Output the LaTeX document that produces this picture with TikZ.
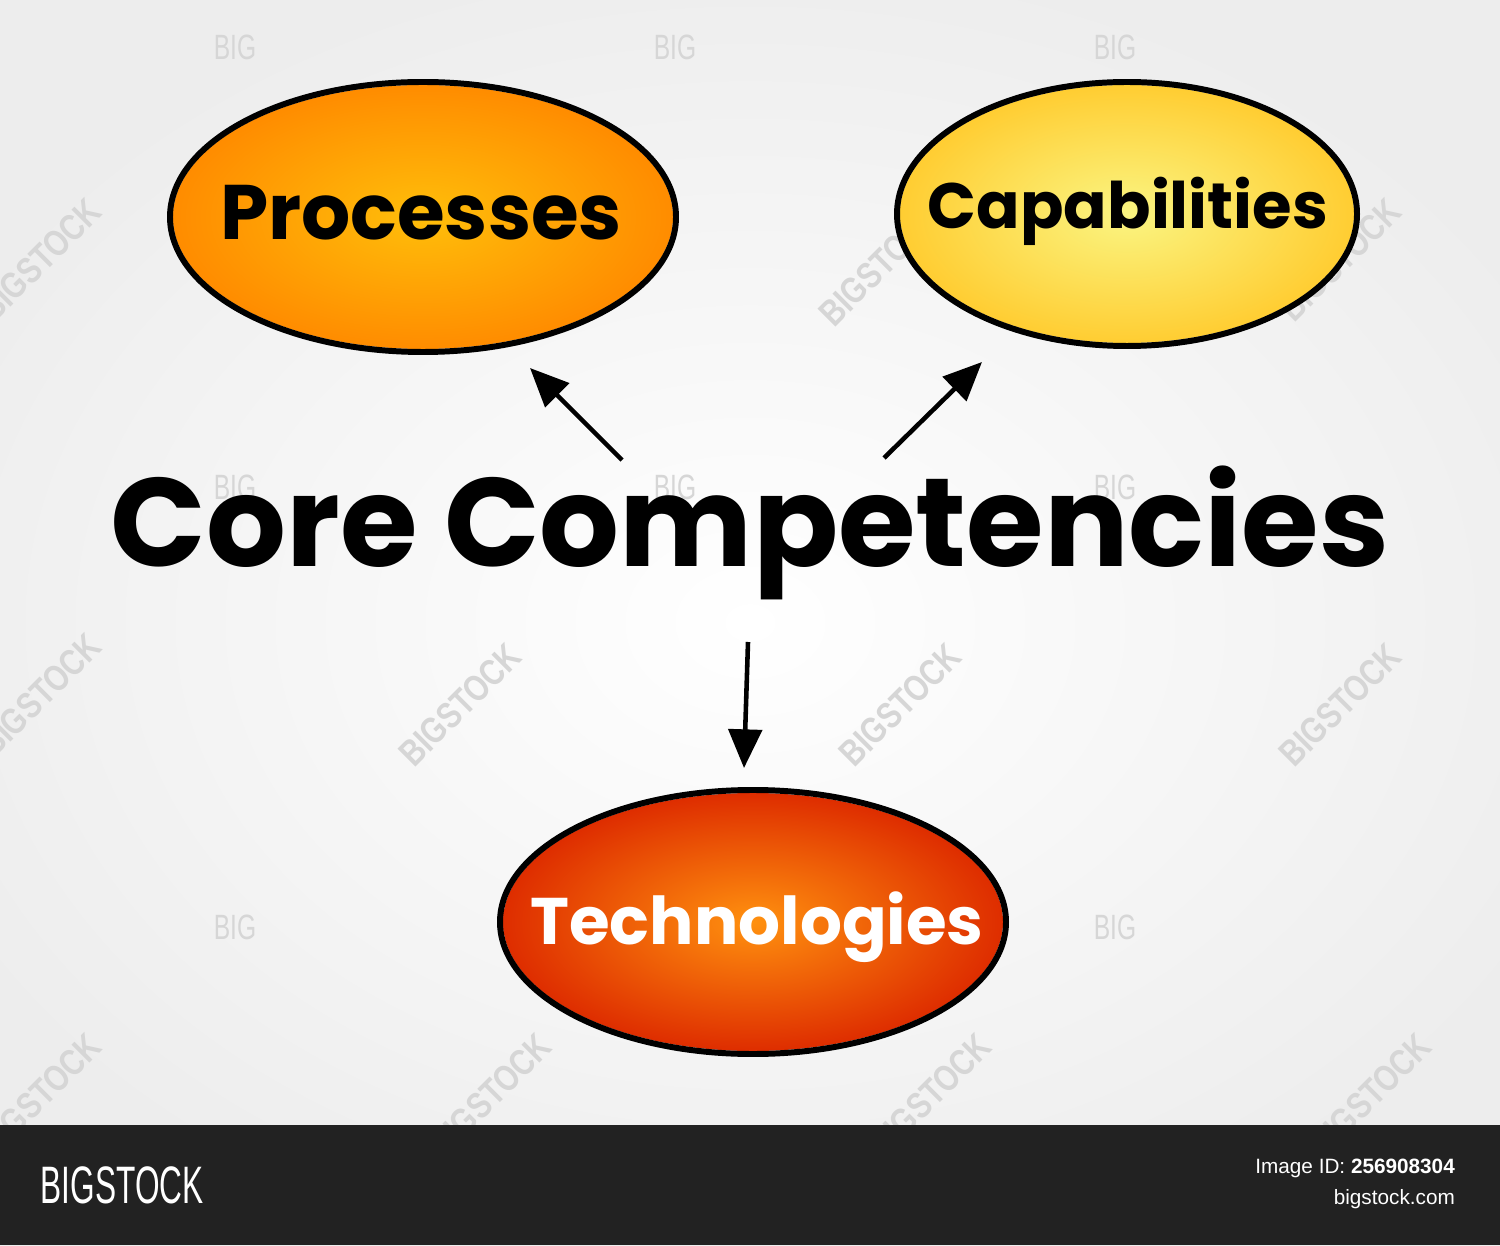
\documentclass[tikz,border=0pt]{standalone}
\usepackage{fontspec}
\setmainfont{Poppins}
\newfontfamily\lib{Liberation Sans}
\usetikzlibrary{arrows.meta,shapes.geometric}
\definecolor{bgc}{HTML}{EDEDED}
\definecolor{barc}{HTML}{222222}
\definecolor{wm}{HTML}{D6D6D6}
\tikzset{
  bubble/.style={ellipse, draw=none, inner sep=0pt},
  bubtext/.style={font=\fontsize{44}{50}\selectfont\bfseries},
  outline/.style={line width=3.4pt},
  arr/.style={line width=2.6pt, -{Triangle[length=22pt,width=19pt]}},
  wmbig/.style={text=wm, font=\lib\fontsize{20}{22}\selectfont, xscale=0.7},
  wmstock/.style={text=wm, font=\lib\bfseries\fontsize{21}{23}\selectfont, rotate=45, xscale=0.8},
}
\begin{document}
\begin{tikzpicture}[x=0.02cm,y=0.02cm]
\useasboundingbox (0,0) rectangle (1500,1245);
% background
\shade[inner color=white, outer color=bgc] (-150,-50) rectangle (1650,1295);
% watermarks
\foreach \x/\y in {235/1198,675/1198,1115/1198,235/758,675/758,1115/758,235/318,675/318,1115/318}
  \node[wmbig] (wb\x\y) at (\x,\y) {BIG};
\foreach \x/\y in {40/985,460/980,880/980,1340/985,40/550,460/540,900/540,1340/540,40/150,490/150,930/150,1370/150}
  \node[wmstock] (ws\x\y) at (\x,\y) {BIGSTOCK};
% bubbles
\shade[inner color={rgb,255:red,255;green,190;blue,10}, outer color={rgb,255:red,255;green,140;blue,0}] (423,1028) ellipse (250 and 132);
\draw[outline] (423,1028) ellipse (253 and 135);
\node[bubble, minimum width=10.12cm, minimum height=5.4cm] (proc) at (423,1028) {};
\node[bubtext] (proct) at (421,1032) {Processes};

\shade[inner color={rgb,255:red,250;green,245;blue,130}, outer color={rgb,255:red,255;green,205;blue,50}] (1127,1031) ellipse (227 and 129);
\draw[outline] (1127,1031) ellipse (230 and 132);
\node[bubble, minimum width=9.2cm, minimum height=5.28cm] (cap) at (1127,1031) {};
\node[bubtext, font=\fontsize{36.5}{42}\selectfont\bfseries] (capt) at (1128,1034) {Capabilities};

\shade[inner color={rgb,255:red,255;green,145;blue,15}, outer color={rgb,255:red,222;green,45;blue,0}] (753,323) ellipse (250 and 129);
\draw[outline] (753,323) ellipse (253 and 132);
\node[bubble, minimum width=10.12cm, minimum height=5.28cm] (tech) at (753,323) {};
\node[bubtext, text=white, font=\fontsize{37.5}{42}\selectfont\bfseries] (techt) at (757,318) {Technologies};

% central text
\node[font=\fontsize{71.5}{82}\selectfont\bfseries] (core) at (750,712) {Core Competencies};

% arrows
\coordinate (a1s) at (622,785);
\coordinate (a1e) at (530,877);
\coordinate (a2s) at (884,787);
\coordinate (a2e) at (982,883);
\coordinate (a3s) at (748,603);
\coordinate (a3e) at (744,477);
\draw[arr] (a1s) -- (a1e);
\draw[arr] (a2s) -- (a2e);
\draw[arr] (a3s) -- (a3e);

% bottom bar
\fill[barc] (0,0) rectangle (1500,120);
\node[text=white, font=\lib\fontsize{30}{32}\selectfont, xscale=0.6, anchor=west] (bs) at (37,60) {BIGSTOCK};
\node[text=white, font=\lib\fontsize{11.8}{13}\selectfont, anchor=east] (iid) at (1461,77) {Image ID: \textbf{256908304}};
\node[text=white, font=\lib\fontsize{11.8}{13}\selectfont, anchor=east] (url) at (1461,46) {bigstock.com};
\end{tikzpicture}
\end{document}
